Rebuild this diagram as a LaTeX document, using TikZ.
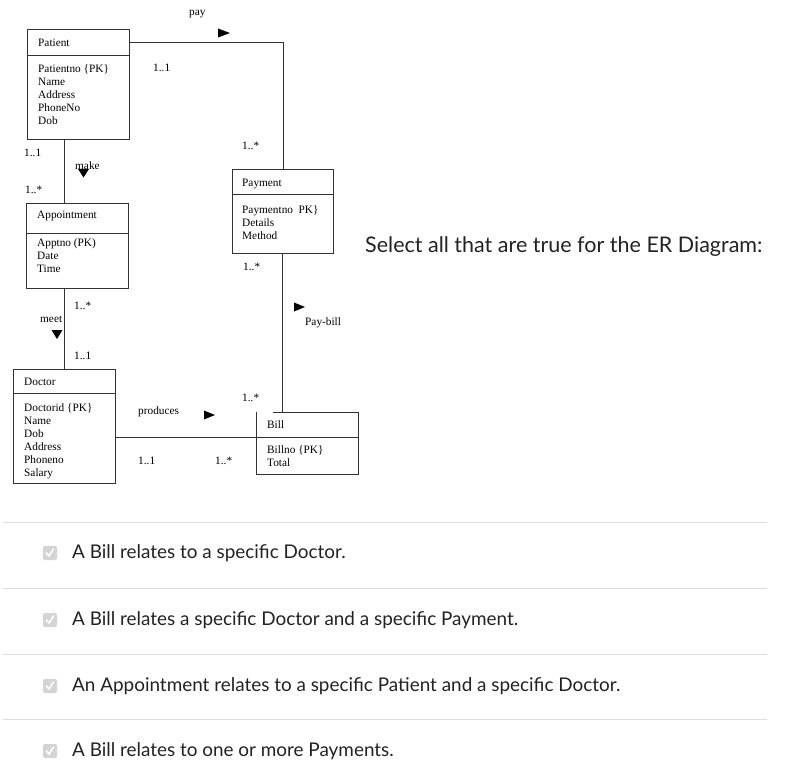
\documentclass[tikz,border=0pt]{standalone}
\usepackage{fontspec}
\setmainfont{Liberation Serif}
\newfontfamily\latofont{Lato}
\usetikzlibrary{calc}
\definecolor{linec}{HTML}{333333}
\definecolor{sepc}{HTML}{DDDDDD}
\definecolor{chkc}{HTML}{D4D4D4}
\definecolor{txtc}{HTML}{222222}
\begin{document}
\begin{tikzpicture}[x=1pt,y=-1pt,
  box/.style={draw=linec, line width=0.9pt, anchor=north west, inner sep=0},
  ttl/.style={font=\fontsize{11.3}{12.7}\selectfont, anchor=west, inner sep=0, yshift=-1.2pt},
  attr/.style={font=\fontsize{11.3}{13}\selectfont, align=left, anchor=north west, inner sep=0},
  conn/.style={draw=linec, line width=0.9pt},
  tri/.style={fill=black},
  head/.style={font=\latofont\fontsize{21.5}{24}\selectfont, text=txtc, anchor=west, inner sep=0},
  opt/.style={font=\latofont\fontsize{18.9}{22}\selectfont, text=txtc, anchor=west, inner sep=0},
  chkbox/.style={fill=chkc, rounded corners=2pt, minimum size=14pt, inner sep=0},
  sep/.style={draw=sepc, line width=1pt}]
\useasboundingbox (0,0) rectangle (789,774);

% ---------- Patient ----------
\node[box, minimum width=102pt, minimum height=26pt] (pth) at (27,29) {};
\node[box, minimum width=102pt, minimum height=84pt] (ptb) at (27,55) {};
\node[ttl] (ptt) at (38,42) {Patient};
\node[attr] (pta) at (38,64) {Patientno \{PK\}\\Name\\Address\\PhoneNo\\Dob};

% ---------- Appointment ----------
\node[box, minimum width=102pt, minimum height=30pt] (aph) at (26,203) {};
\node[box, minimum width=102pt, minimum height=55pt] (apb) at (26,233) {};
\node[ttl] (apt) at (37,215) {Appointment};
\node[attr] (apa) at (37,238) {Apptno (PK)\\Date\\Time};

% ---------- Doctor ----------
\node[box, minimum width=102pt, minimum height=24pt] (drh) at (13,369) {};
\node[box, minimum width=102pt, minimum height=90pt] (drb) at (13,393) {};
\node[ttl] (drt) at (24,381) {Doctor};
\node[attr] (dra) at (24,403) {Doctorid \{PK\}\\Name\\Dob\\Address\\Phoneno\\Salary};

% ---------- Payment ----------
\node[box, minimum width=101pt, minimum height=25pt] (pyh) at (232,169) {};
\node[box, minimum width=101pt, minimum height=59pt] (pyb) at (232,194) {};
\node[ttl] (pyt) at (242,183) {Payment};
\node[attr] (pya) at (242,205) {Paymentno\ \ PK\}\\Details\\Method};

% ---------- Bill ----------
\node[anchor=north west, inner sep=0, minimum width=102pt, minimum height=25pt] (bih) at (256,412) {};
\draw[conn] ($(bih.north west)+(17,0)$) -- (bih.north east) -- (bih.south east);
\draw[conn] (bih.north west) -- (bih.south west);
\node[box, minimum width=102pt, minimum height=37pt] (bib) at (256,437) {};
\node[ttl] (bit) at (267,423) {Bill};
\node[attr] (bia) at (267,445) {Billno \{PK\}\\Total};

% ---------- Connectors ----------
\draw[conn] (pth.east) -| (pyh.north -| 283,0);
\draw[conn] (ptb.south -| 64,0) -- (aph.north -| 64,0);
\draw[conn] (apb.south -| 64,0) -- (drh.north -| 64,0);
\draw[conn] (pyb.south -| 282,0) -- (bih.north -| 282,0);
\draw[conn] (drb.east |- bib.north) -- (bib.north west);

% ---------- Relationship labels & arrows ----------
\node[ttl] (lpay) at (189,13) {pay};
\fill[tri] (218,28.5) -- (230,33) -- (218,37.5) -- cycle;
\node[ttl] (m1) at (153,67) {1..1};
\node[ttl] (m2) at (242,145) {1..*};
\node[ttl] (m3) at (24,152) {1..1};
\node[ttl] (lmake) at (75,164) {make};
\fill[tri] (78,169) -- (89,169) -- (83.5,177.5) -- cycle;
\node[ttl] (m4) at (25,189) {1..*};
\node[ttl] (m5) at (74,305) {1..*};
\node[ttl] (lmeet) at (40,318) {meet};
\fill[tri] (51.5,330) -- (62.5,330) -- (57,339) -- cycle;
\node[ttl] (m6) at (74,355) {1..1};
\node[ttl] (m7) at (243,266) {1..*};
\fill[tri] (294,302.5) -- (305,307) -- (294,311.5) -- cycle;
\node[ttl] (lpb) at (305,322) {Pay-bill};
\node[ttl] (m8) at (242,397) {1..*};
\node[ttl] (lprod) at (138,411) {produces};
\fill[tri] (204,410.5) -- (215,415) -- (204,419.5) -- cycle;
\node[ttl] (m9) at (138,460) {1..1};
\node[ttl] (m10) at (215,460) {1..*};

% ---------- Question ----------
\node[head] (q) at (365,247) {Select all that are true for the ER Diagram:};

\draw[sep] (3,522) -- (767,522);
\draw[sep] (3,588) -- (767,588);
\draw[sep] (3,654) -- (767,654);
\draw[sep] (3,719) -- (767,719);

\foreach \yy/\nm/\tx in {553/o1/{A Bill relates to a specific Doctor.},
                     620/o2/{A Bill relates a specific Doctor and a specific Payment.},
                     686/o3/{An Appointment relates to a specific Patient and a specific Doctor.},
                     751/o4/{A Bill relates to one or more Payments.}}{
  \node[chkbox] (c\nm) at (50,\yy) {};
  \draw[white, line width=1.6pt, line cap=round, line join=round]
    ($(c\nm)+(-3.5,0)$) -- ($(c\nm)+(-1,3)$) -- ($(c\nm)+(3.5,-4)$);
  \node[opt] (\nm) at (72,\yy) {\tx};
}
\end{tikzpicture}
\end{document}
